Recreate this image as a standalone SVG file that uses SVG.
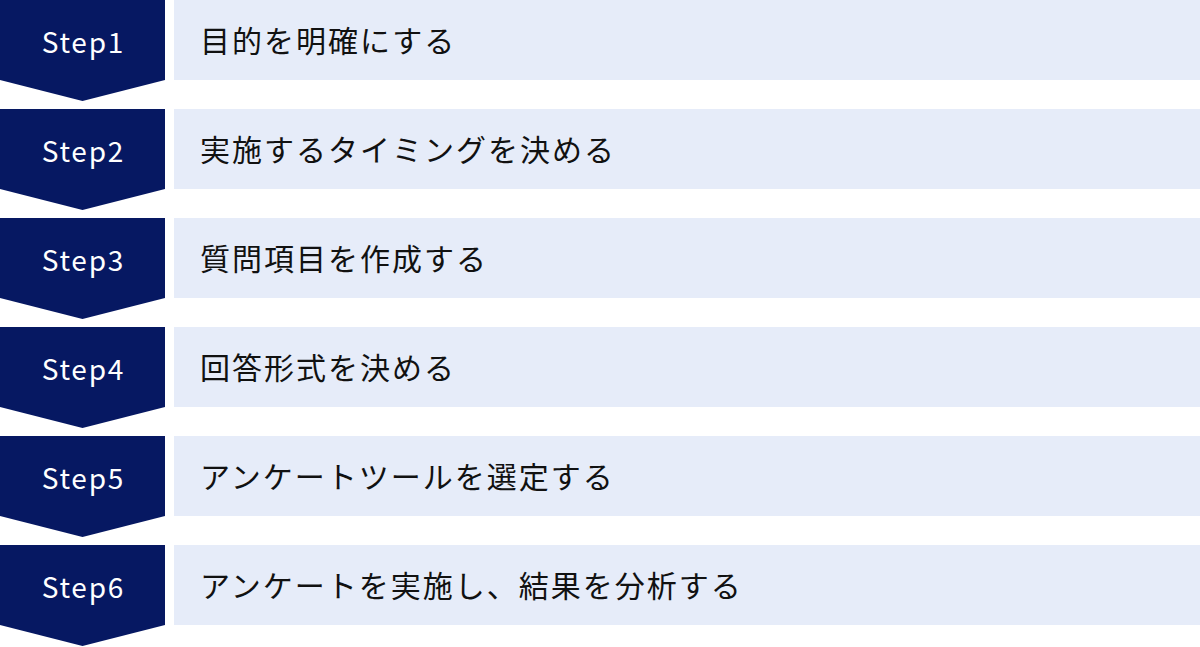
<svg xmlns="http://www.w3.org/2000/svg" width="1200" height="647" viewBox="0 0 1200 647">
<style>
.chev{fill:#061862}
.bar{fill:#e6ecf9}
.step{font-family:"Noto Sans CJK JP","Noto Sans",sans-serif;font-size:28px;font-weight:400;letter-spacing:1.8px;fill:#ffffff;text-anchor:middle}
.lbl{font-family:"Noto Sans CJK JP","Noto Sans",sans-serif;font-size:30px;letter-spacing:2px;fill:#111111}
</style>
<defs>
<polygon id="chevron" points="0,0 165,0 165,80 82.5,101 0,80"/>
</defs>
<rect width="1200" height="647" fill="#ffffff"/>
<g id="connectors"></g>
<g id="step1" transform="translate(0,0)">
<use href="#chevron" class="chev"/>
<rect class="bar" x="174" y="0" width="1026" height="80"/>
<text class="step" x="83.4" y="52.5">Step1</text>
<text class="lbl" x="200" y="52">目的を明確にする</text>
</g>
<g id="step2" transform="translate(0,109)">
<use href="#chevron" class="chev"/>
<rect class="bar" x="174" y="0" width="1026" height="80"/>
<text class="step" x="83.4" y="52.5">Step2</text>
<text class="lbl" x="200" y="52">実施するタイミングを決める</text>
</g>
<g id="step3" transform="translate(0,218)">
<use href="#chevron" class="chev"/>
<rect class="bar" x="174" y="0" width="1026" height="80"/>
<text class="step" x="83.4" y="52.5">Step3</text>
<text class="lbl" x="200" y="52">質問項目を作成する</text>
</g>
<g id="step4" transform="translate(0,327)">
<use href="#chevron" class="chev"/>
<rect class="bar" x="174" y="0" width="1026" height="80"/>
<text class="step" x="83.4" y="52.5">Step4</text>
<text class="lbl" x="200" y="52">回答形式を決める</text>
</g>
<g id="step5" transform="translate(0,436)">
<use href="#chevron" class="chev"/>
<rect class="bar" x="174" y="0" width="1026" height="80"/>
<text class="step" x="83.4" y="52.5">Step5</text>
<text class="lbl" x="200" y="52">アンケートツールを選定する</text>
</g>
<g id="step6" transform="translate(0,545)">
<use href="#chevron" class="chev"/>
<rect class="bar" x="174" y="0" width="1026" height="80"/>
<text class="step" x="83.4" y="52.5">Step6</text>
<text class="lbl" x="200" y="52">アンケートを実施し、結果を分析する</text>
</g>
</svg>
